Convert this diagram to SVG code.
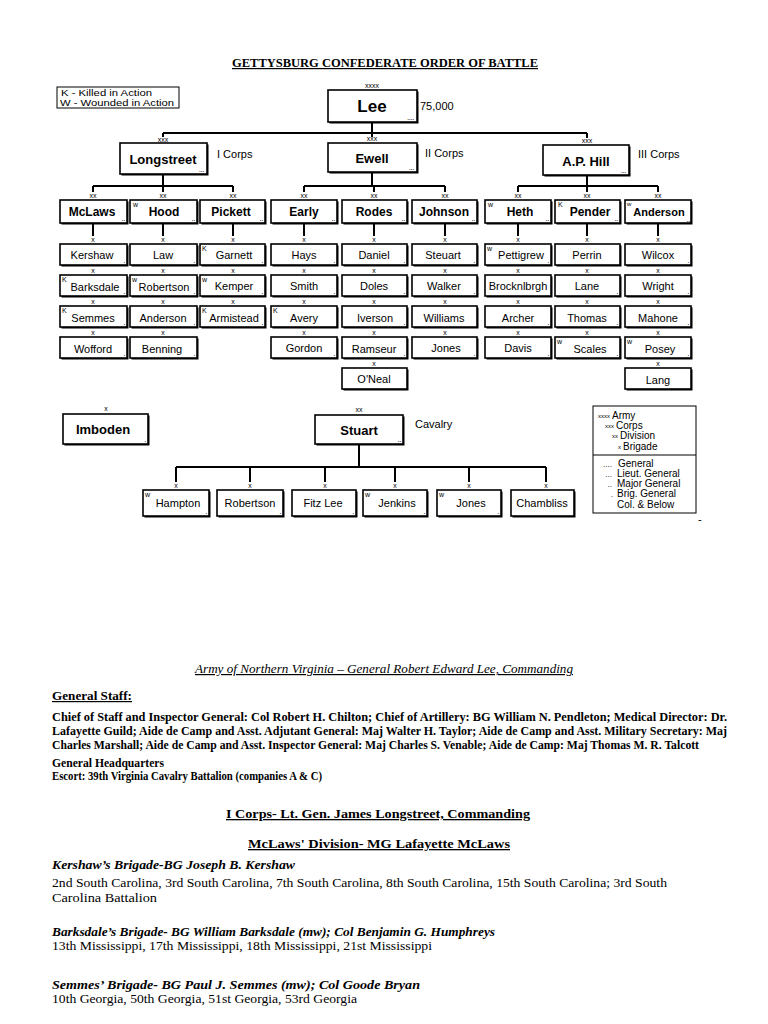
<svg xmlns="http://www.w3.org/2000/svg" width="768" height="1024" viewBox="0 0 768 1024">
<style>
.bg{fill:#fff}
.sh{fill:#000}
.bx{fill:#fff;stroke:#000;stroke-width:1.6}
.ln{stroke:#000;stroke-width:2;fill:none}
.thin{stroke:#000;stroke-width:1;fill:none}
text{font-family:"Liberation Sans",Arial,sans-serif;fill:#000}
.n1{font-size:17px;font-weight:bold;text-anchor:middle}
.n2{font-size:13px;font-weight:bold;text-anchor:middle}
.n3{font-size:12px;font-weight:bold;text-anchor:middle}
.n3s{font-size:11px;font-weight:bold;text-anchor:middle}
.n4{font-size:11px;text-anchor:middle}
.rk{font-size:8px;text-anchor:end;letter-spacing:-0.5px}
.sup{font-size:7px}
.sup6{font-size:6px}
.ech{font-size:7px;text-anchor:middle}
.lbl{font-size:11px}
.lg{font-size:10px}
.kw{font-size:9.5px}
.lsym{font-size:6px;text-anchor:end}
.ldot{font-size:8px;text-anchor:end}
.sf{font-family:"Liberation Serif","Times New Roman",serif}
.b{font-weight:bold}
.i{font-style:italic}
.u{text-decoration:underline}
.t12{font-size:12px}
.t13{font-size:13px}
</style>
<rect class="bg" x="0" y="0" width="768" height="1024"/>

<text class="sf b u t12" x="385" y="67" text-anchor="middle" textLength="306" lengthAdjust="spacingAndGlyphs">GETTYSBURG CONFEDERATE ORDER OF BATTLE</text>

<g id="legend-kw">
<rect x="57" y="87" width="122" height="21" fill="#fff" stroke="#000" stroke-width="1"/>
<text class="kw" x="61" y="96" textLength="91" lengthAdjust="spacingAndGlyphs">K - Killed in Action</text>
<text class="kw" x="60" y="105.5" textLength="114" lengthAdjust="spacingAndGlyphs">W - Wounded in Action</text>
</g>

<g id="connectors">
<line class="ln" x1="372" y1="122" x2="372" y2="133"/>
<line class="ln" x1="163" y1="133" x2="587" y2="133"/>
<line class="ln" x1="163" y1="133" x2="163" y2="137"/>
<line class="ln" x1="372" y1="133" x2="372" y2="137"/>
<line class="ln" x1="587" y1="133" x2="587" y2="138"/>
<line class="ln" x1="163" y1="175" x2="163" y2="186"/>
<line class="ln" x1="93" y1="186" x2="233" y2="186"/>
<line class="ln" x1="93" y1="186" x2="93" y2="192"/>
<line class="ln" x1="163" y1="186" x2="163" y2="192"/>
<line class="ln" x1="233" y1="186" x2="233" y2="192"/>
<line class="ln" x1="372" y1="173" x2="372" y2="186"/>
<line class="ln" x1="304" y1="186" x2="445" y2="186"/>
<line class="ln" x1="304" y1="186" x2="304" y2="192"/>
<line class="ln" x1="374" y1="186" x2="374" y2="192"/>
<line class="ln" x1="445" y1="186" x2="445" y2="192"/>
<line class="ln" x1="587" y1="176" x2="587" y2="186"/>
<line class="ln" x1="518" y1="186" x2="658" y2="186"/>
<line class="ln" x1="518" y1="186" x2="518" y2="192"/>
<line class="ln" x1="587" y1="186" x2="587" y2="192"/>
<line class="ln" x1="658" y1="186" x2="658" y2="192"/>
<line class="ln" x1="93" y1="223" x2="93" y2="236"/>
<line class="ln" x1="163" y1="223" x2="163" y2="236"/>
<line class="ln" x1="233" y1="223" x2="233" y2="236"/>
<line class="ln" x1="304" y1="223" x2="304" y2="236"/>
<line class="ln" x1="374" y1="223" x2="374" y2="236"/>
<line class="ln" x1="445" y1="223" x2="445" y2="236"/>
<line class="ln" x1="518" y1="223" x2="518" y2="236"/>
<line class="ln" x1="587" y1="223" x2="587" y2="236"/>
<line class="ln" x1="658" y1="223" x2="658" y2="236"/>
<line class="ln" x1="359" y1="445" x2="359" y2="467"/>
<line class="ln" x1="176" y1="467" x2="546" y2="467"/>
<line class="ln" x1="176" y1="467" x2="176" y2="482"/>
<line class="ln" x1="250" y1="467" x2="250" y2="482"/>
<line class="ln" x1="325" y1="467" x2="325" y2="482"/>
<line class="ln" x1="395" y1="467" x2="395" y2="482"/>
<line class="ln" x1="469" y1="467" x2="469" y2="482"/>
<line class="ln" x1="546" y1="467" x2="546" y2="482"/>
</g>

<g id="echelons">
<text class="ech" x="372" y="88">xxxx</text>
<text class="ech" x="163" y="142">xxx</text>
<text class="ech" x="372" y="141">xxx</text>
<text class="ech" x="587" y="143">xxx</text>
<text class="ech" x="93" y="198">xx</text>
<text class="ech" x="163" y="198">xx</text>
<text class="ech" x="233" y="198">xx</text>
<text class="ech" x="304" y="198">xx</text>
<text class="ech" x="374" y="198">xx</text>
<text class="ech" x="445" y="198">xx</text>
<text class="ech" x="518" y="198">xx</text>
<text class="ech" x="587" y="198">xx</text>
<text class="ech" x="658" y="198">xx</text>
<text class="ech" x="106" y="411">x</text>
<text class="ech" x="359" y="412">xx</text>
<text class="ech" x="176" y="488">x</text>
<text class="ech" x="250" y="488">x</text>
<text class="ech" x="325" y="488">x</text>
<text class="ech" x="395" y="488">x</text>
<text class="ech" x="469" y="488">x</text>
<text class="ech" x="546" y="488">x</text>
</g>
<g id="brigade-x">
<text class="ech" x="93" y="242">x</text><text class="ech" x="93" y="273">x</text><text class="ech" x="93" y="304">x</text><text class="ech" x="93" y="335">x</text>
<text class="ech" x="163" y="242">x</text><text class="ech" x="163" y="273">x</text><text class="ech" x="163" y="304">x</text><text class="ech" x="163" y="335">x</text>
<text class="ech" x="233" y="242">x</text><text class="ech" x="233" y="273">x</text><text class="ech" x="233" y="304">x</text>
<text class="ech" x="304" y="242">x</text><text class="ech" x="304" y="273">x</text><text class="ech" x="304" y="304">x</text><text class="ech" x="304" y="335">x</text>
<text class="ech" x="374" y="242">x</text><text class="ech" x="374" y="273">x</text><text class="ech" x="374" y="304">x</text><text class="ech" x="374" y="335">x</text><text class="ech" x="374" y="366">x</text>
<text class="ech" x="445" y="242">x</text><text class="ech" x="445" y="273">x</text><text class="ech" x="445" y="304">x</text><text class="ech" x="445" y="335">x</text>
<text class="ech" x="518" y="242">x</text><text class="ech" x="518" y="273">x</text><text class="ech" x="518" y="304">x</text><text class="ech" x="518" y="335">x</text>
<text class="ech" x="587" y="242">x</text><text class="ech" x="587" y="273">x</text><text class="ech" x="587" y="304">x</text><text class="ech" x="587" y="335">x</text>
<text class="ech" x="658" y="242">x</text><text class="ech" x="658" y="273">x</text><text class="ech" x="658" y="304">x</text><text class="ech" x="658" y="335">x</text><text class="ech" x="658" y="366">x</text>
</g>

<g id="lee">
<rect class="sh" x="329.5" y="91.5" width="89" height="32"/>
<rect class="bx" x="328" y="90" width="89" height="32"/>
<text class="n1" x="372" y="112">Lee</text>
<text class="rk" x="414" y="120">....</text>
</g>
<text class="lbl" x="420" y="110">75,000</text>

<g id="longstreet">
<rect class="sh" x="121.5" y="144.5" width="87" height="31"/>
<rect class="bx" x="120" y="143" width="87" height="31"/>
<text class="n2" x="163" y="164">Longstreet</text>
<text class="rk" x="204" y="172">...</text>
</g>
<text class="lbl" x="217" y="158">I Corps</text>
<g id="ewell">
<rect class="sh" x="329.5" y="144.5" width="89" height="29"/>
<rect class="bx" x="328" y="143" width="89" height="29"/>
<text class="n2" x="372" y="163">Ewell</text>
<text class="rk" x="414" y="170">...</text>
</g>
<text class="lbl" x="425" y="157">II Corps</text>
<g id="aphill">
<rect class="sh" x="544.5" y="146.5" width="86" height="30"/>
<rect class="bx" x="543" y="145" width="86" height="30"/>
<text class="n2" x="586" y="166">A.P. Hill</text>
<text class="rk" x="626" y="173">...</text>
</g>
<text class="lbl" x="638" y="158">III Corps</text>

<g id="mclaws"><rect class="sh" x="61.5" y="201.5" width="67" height="23"/><rect class="bx" x="60" y="200" width="67" height="23"/><text class="n3" x="92" y="216">McLaws</text><text class="rk" x="125" y="221">..</text></g>
<g id="hood"><rect class="sh" x="131.5" y="201.5" width="67" height="23"/><rect class="bx" x="130" y="200" width="67" height="23"/><text class="sup" x="133" y="207">w</text><text class="n3" x="164" y="216">Hood</text><text class="rk" x="195" y="221">..</text></g>
<g id="pickett"><rect class="sh" x="201.5" y="201.5" width="65" height="23"/><rect class="bx" x="200" y="200" width="65" height="23"/><text class="n3" x="231" y="216">Pickett</text><text class="rk" x="263" y="221">..</text></g>
<g id="early"><rect class="sh" x="272.5" y="201.5" width="66" height="23"/><rect class="bx" x="271" y="200" width="66" height="23"/><text class="n3" x="304" y="216">Early</text><text class="rk" x="335" y="221">..</text></g>
<g id="rodes"><rect class="sh" x="343.5" y="201.5" width="65" height="23"/><rect class="bx" x="342" y="200" width="65" height="23"/><text class="n3" x="374" y="216">Rodes</text><text class="rk" x="405" y="221">..</text></g>
<g id="johnson"><rect class="sh" x="413.5" y="201.5" width="65" height="23"/><rect class="bx" x="412" y="200" width="65" height="23"/><text class="n3" x="444" y="216">Johnson</text><text class="rk" x="475" y="221">..</text></g>
<g id="heth"><rect class="sh" x="486.5" y="201.5" width="66" height="23"/><rect class="bx" x="485" y="200" width="66" height="23"/><text class="sup" x="488" y="207">w</text><text class="n3" x="520" y="216">Heth</text><text class="rk" x="549" y="221">..</text></g>
<g id="pender"><rect class="sh" x="556.5" y="201.5" width="65" height="23"/><rect class="bx" x="555" y="200" width="65" height="23"/><text class="sup" x="558" y="207">K</text><text class="n3" x="590" y="216">Pender</text><text class="rk" x="618" y="221">..</text></g>
<g id="anderson-div"><rect class="sh" x="626.5" y="201.5" width="66" height="23"/><rect class="bx" x="625" y="200" width="66" height="23"/><text class="sup6" x="627" y="206">w</text><text class="n3s" x="659" y="215.5">Anderson</text><text class="rk" x="690" y="222">..</text></g>

<g id="kershaw"><rect class="sh" x="61.5" y="245.5" width="67" height="21"/><rect class="bx" x="60" y="244" width="67" height="21"/><text class="n4" x="92" y="259">Kershaw</text><text class="rk" x="125" y="263">.</text></g>
<g id="barksdale"><rect class="sh" x="61.5" y="276.5" width="67" height="21"/><rect class="bx" x="60" y="275" width="67" height="21"/><text class="sup" x="62" y="282">K</text><text class="n4" x="95" y="291">Barksdale</text><text class="rk" x="125" y="294">.</text></g>
<g id="semmes"><rect class="sh" x="61.5" y="307.5" width="67" height="21"/><rect class="bx" x="60" y="306" width="67" height="21"/><text class="sup" x="62" y="313">K</text><text class="n4" x="93" y="322">Semmes</text><text class="rk" x="125" y="325">.</text></g>
<g id="wofford"><rect class="sh" x="61.5" y="338.5" width="67" height="21"/><rect class="bx" x="60" y="337" width="67" height="21"/><text class="n4" x="93" y="353">Wofford</text><text class="rk" x="125" y="356">.</text></g>
<g id="law"><rect class="sh" x="131.5" y="245.5" width="67" height="21"/><rect class="bx" x="130" y="244" width="67" height="21"/><text class="n4" x="163" y="259">Law</text><text class="rk" x="195" y="263">.</text></g>
<g id="robertson-b"><rect class="sh" x="131.5" y="276.5" width="67" height="21"/><rect class="bx" x="130" y="275" width="67" height="21"/><text class="sup" x="132" y="282">w</text><text class="n4" x="164" y="291">Robertson</text><text class="rk" x="195" y="294">.</text></g>
<g id="anderson-b"><rect class="sh" x="131.5" y="307.5" width="67" height="21"/><rect class="bx" x="130" y="306" width="67" height="21"/><text class="n4" x="163" y="322">Anderson</text><text class="rk" x="195" y="325">.</text></g>
<g id="benning"><rect class="sh" x="131.5" y="338.5" width="67" height="21"/><rect class="bx" x="130" y="337" width="67" height="21"/><text class="n4" x="162" y="353">Benning</text><text class="rk" x="195" y="356">.</text></g>
<g id="garnett"><rect class="sh" x="201.5" y="245.5" width="65" height="21"/><rect class="bx" x="200" y="244" width="65" height="21"/><text class="sup" x="202" y="251">K</text><text class="n4" x="234" y="259">Garnett</text><text class="rk" x="263" y="263">.</text></g>
<g id="kemper"><rect class="sh" x="201.5" y="276.5" width="65" height="21"/><rect class="bx" x="200" y="275" width="65" height="21"/><text class="sup" x="202" y="282">w</text><text class="n4" x="234" y="290">Kemper</text><text class="rk" x="263" y="294">.</text></g>
<g id="armistead"><rect class="sh" x="201.5" y="307.5" width="65" height="21"/><rect class="bx" x="200" y="306" width="65" height="21"/><text class="sup" x="202" y="313">K</text><text class="n4" x="234" y="322">Armistead</text><text class="rk" x="263" y="325">.</text></g>
<g id="hays"><rect class="sh" x="272.5" y="245.5" width="66" height="21"/><rect class="bx" x="271" y="244" width="66" height="21"/><text class="n4" x="304" y="259">Hays</text><text class="rk" x="335" y="263">.</text></g>
<g id="smith"><rect class="sh" x="272.5" y="276.5" width="66" height="21"/><rect class="bx" x="271" y="275" width="66" height="21"/><text class="n4" x="304" y="290">Smith</text><text class="rk" x="335" y="294">.</text></g>
<g id="avery"><rect class="sh" x="272.5" y="307.5" width="66" height="21"/><rect class="bx" x="271" y="306" width="66" height="21"/><text class="sup" x="273" y="313">K</text><text class="n4" x="304" y="322">Avery</text></g>
<g id="gordon"><rect class="sh" x="272.5" y="338.5" width="66" height="21"/><rect class="bx" x="271" y="337" width="66" height="21"/><text class="n4" x="304" y="352">Gordon</text><text class="rk" x="335" y="356">.</text></g>
<g id="daniel"><rect class="sh" x="343.5" y="245.5" width="65" height="21"/><rect class="bx" x="342" y="244" width="65" height="21"/><text class="n4" x="374" y="259">Daniel</text><text class="rk" x="405" y="263">.</text></g>
<g id="doles"><rect class="sh" x="343.5" y="276.5" width="65" height="21"/><rect class="bx" x="342" y="275" width="65" height="21"/><text class="n4" x="374" y="290">Doles</text><text class="rk" x="405" y="294">.</text></g>
<g id="iverson"><rect class="sh" x="343.5" y="307.5" width="65" height="21"/><rect class="bx" x="342" y="306" width="65" height="21"/><text class="n4" x="375" y="322">Iverson</text><text class="rk" x="405" y="325">.</text></g>
<g id="ramseur"><rect class="sh" x="343.5" y="338.5" width="65" height="21"/><rect class="bx" x="342" y="337" width="65" height="21"/><text class="n4" x="374" y="353">Ramseur</text><text class="rk" x="405" y="356">.</text></g>
<g id="oneal"><rect class="sh" x="343.5" y="369.5" width="65" height="21"/><rect class="bx" x="342" y="368" width="65" height="21"/><text class="n4" x="374" y="383">O'Neal</text></g>
<g id="steuart"><rect class="sh" x="413.5" y="245.5" width="65" height="21"/><rect class="bx" x="412" y="244" width="65" height="21"/><text class="n4" x="443" y="259">Steuart</text><text class="rk" x="475" y="263">.</text></g>
<g id="walker"><rect class="sh" x="413.5" y="276.5" width="65" height="21"/><rect class="bx" x="412" y="275" width="65" height="21"/><text class="n4" x="444" y="290">Walker</text><text class="rk" x="475" y="294">.</text></g>
<g id="williams"><rect class="sh" x="413.5" y="307.5" width="65" height="21"/><rect class="bx" x="412" y="306" width="65" height="21"/><text class="n4" x="444" y="322">Williams</text></g>
<g id="jones-b"><rect class="sh" x="413.5" y="338.5" width="65" height="21"/><rect class="bx" x="412" y="337" width="65" height="21"/><text class="n4" x="446" y="352">Jones</text><text class="rk" x="475" y="356">.</text></g>
<g id="pettigrew"><rect class="sh" x="486.5" y="245.5" width="66" height="21"/><rect class="bx" x="485" y="244" width="66" height="21"/><text class="sup" x="487" y="251">w</text><text class="n4" x="521" y="259">Pettigrew</text><text class="rk" x="549" y="263">.</text></g>
<g id="brockenbrough"><rect class="sh" x="486.5" y="276.5" width="66" height="21"/><rect class="bx" x="485" y="275" width="66" height="21"/><text class="n4" x="518" y="290">Brocknlbrgh</text></g>
<g id="archer"><rect class="sh" x="486.5" y="307.5" width="66" height="21"/><rect class="bx" x="485" y="306" width="66" height="21"/><text class="n4" x="518" y="322">Archer</text><text class="rk" x="549" y="325">.</text></g>
<g id="davis"><rect class="sh" x="486.5" y="338.5" width="66" height="21"/><rect class="bx" x="485" y="337" width="66" height="21"/><text class="n4" x="518" y="352">Davis</text><text class="rk" x="549" y="356">.</text></g>
<g id="perrin"><rect class="sh" x="556.5" y="245.5" width="65" height="21"/><rect class="bx" x="555" y="244" width="65" height="21"/><text class="n4" x="587" y="259">Perrin</text></g>
<g id="lane"><rect class="sh" x="556.5" y="276.5" width="65" height="21"/><rect class="bx" x="555" y="275" width="65" height="21"/><text class="n4" x="587" y="290">Lane</text><text class="rk" x="618" y="294">.</text></g>
<g id="thomas"><rect class="sh" x="556.5" y="307.5" width="65" height="21"/><rect class="bx" x="555" y="306" width="65" height="21"/><text class="n4" x="587" y="322">Thomas</text><text class="rk" x="618" y="325">.</text></g>
<g id="scales"><rect class="sh" x="556.5" y="338.5" width="65" height="21"/><rect class="bx" x="555" y="337" width="65" height="21"/><text class="sup" x="557" y="344">w</text><text class="n4" x="590" y="353">Scales</text><text class="rk" x="618" y="356">.</text></g>
<g id="wilcox"><rect class="sh" x="626.5" y="245.5" width="66" height="21"/><rect class="bx" x="625" y="244" width="66" height="21"/><text class="n4" x="658" y="259">Wilcox</text><text class="rk" x="689" y="263">.</text></g>
<g id="wright"><rect class="sh" x="626.5" y="276.5" width="66" height="21"/><rect class="bx" x="625" y="275" width="66" height="21"/><text class="n4" x="658" y="290">Wright</text><text class="rk" x="689" y="294">.</text></g>
<g id="mahone"><rect class="sh" x="626.5" y="307.5" width="66" height="21"/><rect class="bx" x="625" y="306" width="66" height="21"/><text class="n4" x="658" y="322">Mahone</text><text class="rk" x="689" y="325">.</text></g>
<g id="posey"><rect class="sh" x="626.5" y="338.5" width="66" height="21"/><rect class="bx" x="625" y="337" width="66" height="21"/><text class="sup" x="627" y="344">w</text><text class="n4" x="660" y="353">Posey</text><text class="rk" x="689" y="356">.</text></g>
<g id="lang"><rect class="sh" x="626.5" y="369.5" width="66" height="21"/><rect class="bx" x="625" y="368" width="66" height="21"/><text class="n4" x="658" y="384">Lang</text></g>

<g id="imboden"><rect class="sh" x="64.5" y="415.5" width="85" height="30"/><rect class="bx" x="63" y="414" width="85" height="30"/><text class="n2" x="103" y="434">Imboden</text><text class="rk" x="146" y="442">.</text></g>
<g id="stuart"><rect class="sh" x="316.5" y="416.5" width="88" height="29"/><rect class="bx" x="315" y="415" width="88" height="29"/><text class="n2" x="359" y="435">Stuart</text><text class="rk" x="401" y="442">..</text></g>
<text class="lbl" x="415" y="428">Cavalry</text>
<g id="hampton"><rect class="sh" x="144.5" y="491.5" width="66" height="26"/><rect class="bx" x="143" y="490" width="66" height="26"/><text class="sup" x="145" y="497">w</text><text class="n4" x="178" y="507">Hampton</text><text class="rk" x="207" y="514">.</text></g>
<g id="robertson-c"><rect class="sh" x="218.5" y="491.5" width="66" height="26"/><rect class="bx" x="217" y="490" width="66" height="26"/><text class="n4" x="250" y="507">Robertson</text><text class="rk" x="281" y="514">.</text></g>
<g id="fitzlee"><rect class="sh" x="293.5" y="491.5" width="64" height="26"/><rect class="bx" x="292" y="490" width="64" height="26"/><text class="n4" x="323" y="507">Fitz Lee</text><text class="rk" x="354" y="514">.</text></g>
<g id="jenkins"><rect class="sh" x="364.5" y="491.5" width="64" height="26"/><rect class="bx" x="363" y="490" width="64" height="26"/><text class="sup" x="365" y="497">w</text><text class="n4" x="397" y="507">Jenkins</text><text class="rk" x="425" y="514">.</text></g>
<g id="jones-c"><rect class="sh" x="438.5" y="491.5" width="64" height="26"/><rect class="bx" x="437" y="490" width="64" height="26"/><text class="sup" x="439" y="497">w</text><text class="n4" x="471" y="507">Jones</text><text class="rk" x="499" y="514">.</text></g>
<g id="chambliss"><rect class="sh" x="512.5" y="491.5" width="63" height="26"/><rect class="bx" x="511" y="490" width="63" height="26"/><text class="n4" x="542" y="507">Chambliss</text></g>

<g id="legend-key">
<rect x="593" y="406" width="103" height="107" fill="#fff" stroke="#000" stroke-width="1"/>
<line class="thin" x1="593" y1="455" x2="696" y2="455"/>
<text class="lsym" x="610" y="418">xxxx</text><text class="lg" x="612" y="419">Army</text>
<text class="lsym" x="614" y="428">xxx</text><text class="lg" x="616" y="429">Corps</text>
<text class="lsym" x="618" y="438">xx</text><text class="lg" x="620" y="439">Division</text>
<text class="lsym" x="621" y="449">x</text><text class="lg" x="623" y="450">Brigade</text>
<text class="ldot" x="612" y="467">....</text><text class="lg" x="618" y="467">General</text>
<text class="ldot" x="612" y="477">...</text><text class="lg" x="617" y="477">Lieut. General</text>
<text class="ldot" x="612" y="487">..</text><text class="lg" x="617" y="487">Major General</text>
<text class="ldot" x="613" y="497">.</text><text class="lg" x="617" y="497">Brig. General</text>
<text class="lg" x="617" y="508">Col. &amp; Below</text>
</g>
<text class="lbl" x="698" y="523">-</text>

<g id="text-block">
<text class="sf i u t12" x="384" y="673" text-anchor="middle" textLength="378" lengthAdjust="spacingAndGlyphs">Army of Northern Virginia – General Robert Edward Lee, Commanding</text>
<text class="sf b u t12" x="52" y="700" textLength="80" lengthAdjust="spacingAndGlyphs">General Staff:</text>
<text class="sf b t12" x="52" y="721" textLength="675" lengthAdjust="spacingAndGlyphs">Chief of Staff and Inspector General: Col Robert H. Chilton; Chief of Artillery: BG William N. Pendleton; Medical Director: Dr.</text>
<text class="sf b t12" x="52" y="735" textLength="675" lengthAdjust="spacingAndGlyphs">Lafayette Guild; Aide de Camp and Asst. Adjutant General: Maj Walter H. Taylor; Aide de Camp and Asst. Military Secretary: Maj</text>
<text class="sf b t12" x="52" y="749" textLength="647" lengthAdjust="spacingAndGlyphs">Charles Marshall; Aide de Camp and Asst. Inspector General: Maj Charles S. Venable; Aide de Camp: Maj Thomas M. R. Talcott</text>
<text class="sf b t12" x="52" y="767" textLength="112" lengthAdjust="spacingAndGlyphs">General Headquarters</text>
<text class="sf b t12" x="52" y="780" textLength="270" lengthAdjust="spacingAndGlyphs">Escort: 39th Virginia Cavalry Battalion (companies A &amp; C)</text>
<text class="sf b u t13" x="378" y="818" text-anchor="middle" textLength="304" lengthAdjust="spacingAndGlyphs">I Corps- Lt. Gen. James Longstreet, Commanding</text>
<text class="sf b u t13" x="379" y="848" text-anchor="middle" textLength="262" lengthAdjust="spacingAndGlyphs">McLaws' Division- MG Lafayette McLaws</text>
<text class="sf b i t13" x="52" y="869" textLength="243" lengthAdjust="spacingAndGlyphs">Kershaw’s Brigade-BG Joseph B. Kershaw</text>
<text class="sf t12" x="52" y="887" textLength="615" lengthAdjust="spacingAndGlyphs">2nd South Carolina, 3rd South Carolina, 7th South Carolina, 8th South Carolina, 15th South Carolina; 3rd South</text>
<text class="sf t12" x="52" y="902" textLength="105" lengthAdjust="spacingAndGlyphs">Carolina Battalion</text>
<text class="sf b i t13" x="52" y="936" textLength="443" lengthAdjust="spacingAndGlyphs">Barksdale’s Brigade- BG William Barksdale (mw); Col Benjamin G. Humphreys</text>
<text class="sf t12" x="52" y="950" textLength="380" lengthAdjust="spacingAndGlyphs">13th Mississippi, 17th Mississippi, 18th Mississippi, 21st Mississippi</text>
<text class="sf b i t13" x="52" y="989" textLength="368" lengthAdjust="spacingAndGlyphs">Semmes’ Brigade- BG Paul J. Semmes (mw); Col Goode Bryan</text>
<text class="sf t12" x="52" y="1003" textLength="305" lengthAdjust="spacingAndGlyphs">10th Georgia, 50th Georgia, 51st Georgia, 53rd Georgia</text>
</g>
</svg>
